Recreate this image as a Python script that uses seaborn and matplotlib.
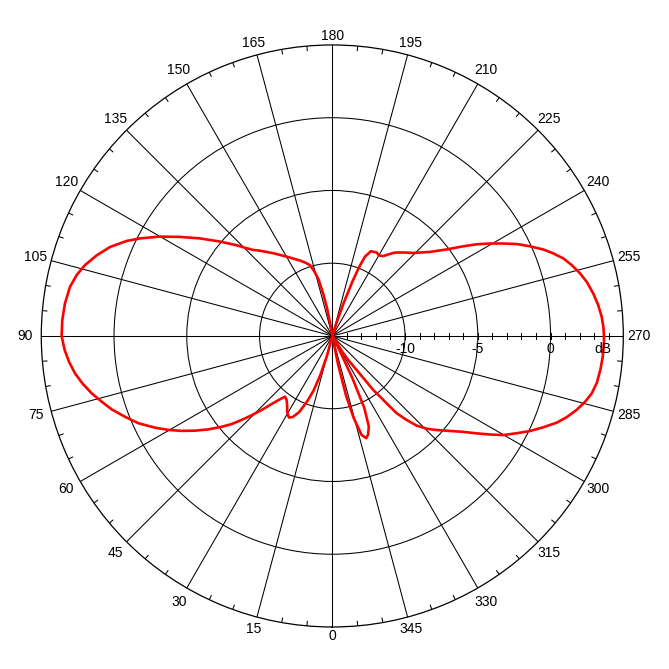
import numpy as np
import pandas as pd
import matplotlib
matplotlib.use("Agg")
import matplotlib.pyplot as plt
import matplotlib.transforms as mtransforms
import seaborn as sns

# ---- data (angle in degrees, gain in dB) ----
angle_deg = [0, 5, 10, 13, 15, 17, 19, 21, 23.5, 26, 28, 30.5, 33, 35.5, 37.9,
             39.6, 41.7, 43.65, 45.5, 47.2, 48.8, 50.6, 53, 55.4, 57.8, 60.2,
             62.65, 65.8, 68.7, 71.6, 74.1, 76.6, 79.3, 81.75, 84.4, 87, 90,
             93.3, 96.9, 100.6, 103.4, 106, 108.9, 111.8, 114.8, 116.9, 119.9,
             123, 126.4, 130, 133.5, 135.6, 137.3, 139.6, 144.4, 150, 156.7, 160,
             162.5, 164.5, 166.3, 167.8, 169.2, 170.5, 172, 180, 190, 196, 197.5,
             199, 200.3, 201.3, 202.4, 204.5, 208, 210, 212.4, 214.5, 216.4, 218,
             221, 224.3, 229.3, 232.9, 235.6, 237.6, 239.6, 241.6, 243.5, 245.6,
             247.7, 249.5, 251.45, 253.5, 255.8, 258, 260.75, 263.4, 265.9, 268.1,
             270, 271.5, 274.4, 277.2, 280.1, 282.5, 284.6, 286.8, 289.1, 291.1,
             293.4, 295.7, 297.8, 300.1, 302, 304, 306.2, 308.9, 312, 314.5, 316.7,
             318.5, 320.2, 320.8, 321.6, 322.8, 323.4, 324.3, 326.3, 327.5, 329.5,
             331, 333, 334.5, 336, 338, 340, 341.6, 343.5, 345.4, 347, 348.5, 350,
             360]
gain_db = [-15, -15, -15, -15, -13.6, -12.2, -11.0, -10.2, -9.3, -8.8, -8.65, -8.9,
           -9.3, -9.6, -9.71, -9.36, -8.74, -7.97, -7.23, -6.51, -5.81, -5.17,
           -4.33, -3.54, -2.76, -2.01, -1.28, -0.38, 0.29, 0.98, 1.48, 2.0, 2.49,
           2.87, 3.18, 3.42, 3.6, 3.59, 3.51, 3.34, 3.06, 2.68, 2.11, 1.46, 0.57,
           -0.18, -1.3, -2.5, -3.7, -4.9, -5.95, -6.55, -6.95, -7.3, -8.0, -8.7,
           -9.35, -9.65, -9.9, -10.4, -11.0, -12.0, -13.0, -14.2, -15, -15, -15,
           -15, -14.2, -12.6, -11.0, -9.9, -9.1, -8.6, -8.5, -8.6, -8.5, -8.2,
           -7.9, -7.72, -7.4, -7.03, -6.14, -5.14, -4.09, -3.24, -2.44, -1.64,
           -0.84, -0.08, 0.67, 1.21, 1.75, 2.16, 2.56, 2.88, 3.17, 3.4, 3.56,
           3.64, 3.67, 3.68, 3.64, 3.57, 3.46, 3.26, 2.95, 2.55, 2.05, 1.54, 0.8,
           0.07, -0.67, -1.42, -2.22, -3.03, -3.84, -4.6, -5.34, -5.9, -6.53,
           -7.29, -8.09, -8.73, -9.54, -10.34, -11.23, -12.13, -13.0, -13.6, -15,
           -15, -14, -11.8, -9.6, -8.3, -7.8, -7.6, -7.9, -9.2, -10.8, -13, -15,
           -15]

r_min, r_max = -15, 5
ring_values = [-10, -5, 0]
ring_labels = ["-10", "-5", "0"]
unit_label = "dB"
unit_pos = 3.6
angle_ticks = list(range(0, 360, 15))
angle_labels = [str(a) for a in angle_ticks]
minor_angles = [a for a in range(0, 360, 5) if a % 15 != 0]

# ---- style ----
sns.set_theme(style="white")
plt.rcParams["font.family"] = ["Liberation Sans", "DejaVu Sans"]

fig = plt.figure(figsize=(6.69, 6.69), dpi=100)
ax = fig.add_axes([0.0617, 0.0628, 0.870, 0.870], projection="polar")
ax.set_facecolor("white")
ax.set_theta_zero_location("S")
ax.set_theta_direction(-1)

df = pd.DataFrame({"theta": np.deg2rad(angle_deg), "gain": gain_db})
sns.lineplot(data=df, x="theta", y="gain", ax=ax, sort=False, estimator=None,
             color="#ff0000", linewidth=1.9, zorder=5)
for ln in ax.lines:
    ln.set_solid_joinstyle("round")
    ln.set_solid_capstyle("round")

ax.set_ylim(r_min, r_max)
ax.set_yticks(ring_values)
ax.set_yticklabels([])
ax.set_xticks(np.deg2rad(angle_ticks))
ax.set_xticklabels([])
ax.grid(True, which="major", color="black", linewidth=0.75)
ax.tick_params(axis="both", length=0)
ax.spines["polar"].set_color("black")
ax.spines["polar"].set_linewidth(0.9)
ax.set_xlabel("")
ax.set_ylabel("")

# minor angle ticks on the outer circle (inward)
ax.vlines(np.deg2rad(minor_angles), r_max - 0.35, r_max, color="black",
          linewidth=0.75, zorder=3)

# radial minor ticks along the 270 direction
rt = np.arange(r_min + 1, r_max, 1)
ax.plot(np.full(len(rt), np.deg2rad(270)), rt, linestyle="none", marker="|",
        markersize=4, color="black", markeredgewidth=0.75, zorder=4)

# radial labels below the 270 axis
below = mtransforms.offset_copy(ax.transData, fig=fig, x=0, y=-6, units="dots")
for v, lab in zip(ring_values, ring_labels):
    ax.text(np.deg2rad(270), v, lab, transform=below, ha="center", va="top",
            fontsize=10, color="black", zorder=6)
ax.text(np.deg2rad(270), unit_pos, unit_label, transform=below, ha="center",
        va="top", fontsize=10, color="black", zorder=6)

# angle labels outside the circle
R_px = 291.0
for a, lab in zip(angle_ticks, angle_labels):
    t = np.deg2rad(a)
    d = 300 + 7 * min(1.0, 2 * abs(np.sin(t)))
    x = 0.5 - (d / (2 * R_px)) * np.sin(t)
    y = 0.5 - (d / (2 * R_px)) * np.cos(t)
    ax.text(x, y, lab, transform=ax.transAxes, ha="center", va="center",
            fontsize=10, color="black", clip_on=False)

fig.savefig("out.png", dpi=100, facecolor="white")
